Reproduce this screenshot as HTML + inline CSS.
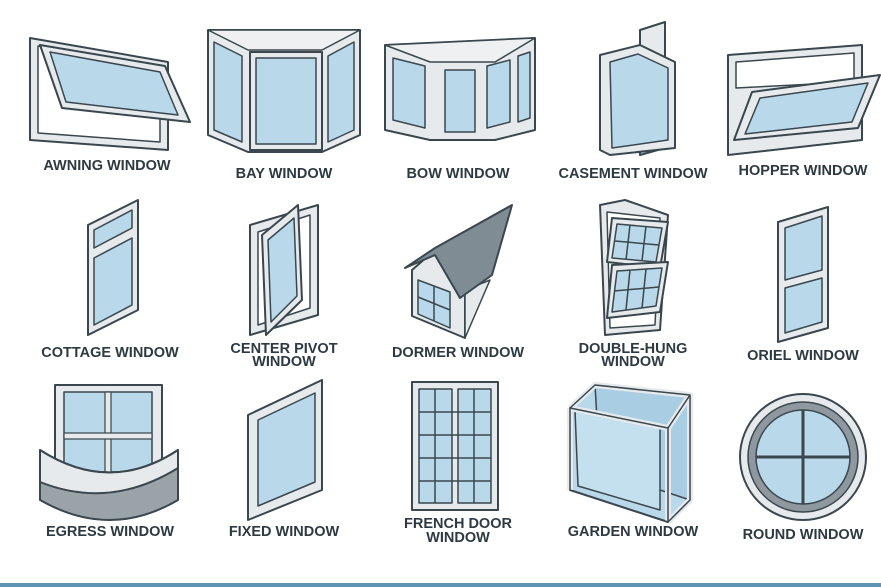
<!DOCTYPE html>
<html><head><style>
html,body{margin:0;padding:0;background:#fff;}
svg{display:block}
text{font-family:"Liberation Sans",sans-serif;font-weight:bold;fill:#2e3a41;font-size:14.5px;text-anchor:middle}
</style></head><body>
<svg width="881" height="587" viewBox="0 0 881 587" xmlns="http://www.w3.org/2000/svg">
<rect width="881" height="587" fill="#fff"/>
<g stroke="#3a474e" stroke-width="2" stroke-linejoin="round">
<!-- Awning -->
<polygon points="30,38 168,62 168,150 30,140" fill="#e6eaec"/>
<polygon points="38,46 160,68 160,142 38,133" fill="#fff" stroke-width="1.5"/>
<polygon points="40,45 165,66 190,122 62,108" fill="#e6eaec"/>
<polygon points="50,52 160,72 178,115 66,102" fill="#b9d8ea" stroke-width="1.5"/>
<!-- Bay -->
<polygon points="208,30 360,30 360,135 322,152 248,152 208,135" fill="#e6eaec"/>
<polygon points="208,30 248,50 322,50 360,30" fill="#eef0f1" stroke-width="1.5"/>
<rect x="250" y="52" width="72" height="98" fill="#e6eaec"/>
<rect x="256" y="58" width="60" height="86" fill="#b9d8ea" stroke-width="1.5"/>
<polygon points="214,42 242,56 242,142 214,130" fill="#b9d8ea" stroke-width="1.5"/>
<polygon points="354,42 328,56 328,142 354,130" fill="#b9d8ea" stroke-width="1.5"/>
<!-- Bow -->
<polygon points="385,45 535,38 535,130 495,140 430,140 385,130" fill="#e6eaec"/>
<polygon points="385,45 430,62 495,62 535,38" fill="#eef0f1" stroke-width="1.5"/>
<polygon points="393,58 425,66 425,128 393,120" fill="#b9d8ea" stroke-width="1.5"/>
<rect x="445" y="70" width="30" height="62" fill="#b9d8ea" stroke-width="1.5"/>
<polygon points="487,66 510,60 510,122 487,128" fill="#b9d8ea" stroke-width="1.5"/>
<polygon points="518,56 530,52 530,118 518,122" fill="#b9d8ea" stroke-width="1.5"/>
<!-- Casement -->
<polygon points="640,30 665,22 665,148 640,155" fill="#e6eaec"/>
<polygon points="600,55 640,45 675,62 675,148 610,155 600,150" fill="#e6eaec"/>
<polygon points="610,62 638,54 668,68 668,140 612,148" fill="#b9d8ea" stroke-width="1.5"/>
<!-- Hopper -->
<polygon points="728,55 862,45 862,140 728,155" fill="#e6eaec"/>
<polygon points="736,62 854,53 854,82 736,88" fill="#fff" stroke-width="1.5"/>
<polygon points="734,140 752,92 880,75 858,128" fill="#e6eaec"/>
<polygon points="745,134 760,98 868,83 852,122" fill="#b9d8ea" stroke-width="1.5"/>
<!-- Cottage -->
<polygon points="88,225 138,200 138,310 88,335" fill="#e6eaec"/>
<polygon points="94,230 132,210 132,228 94,248" fill="#b9d8ea" stroke-width="1.5"/>
<polygon points="94,258 132,238 132,305 94,325" fill="#b9d8ea" stroke-width="1.5"/>
<!-- Center pivot -->
<polygon points="250,225 318,205 318,315 250,335" fill="#e6eaec"/>
<polygon points="258,232 310,215 310,308 258,325" fill="#fff" stroke-width="1.5"/>
<polygon points="262,235 298,205 302,300 266,335" fill="#e6eaec"/>
<polygon points="268,240 294,218 297,296 271,322" fill="#b9d8ea" stroke-width="1.5"/>
<!-- Dormer -->
<polygon points="412,270 435,250 465,268 465,338 412,316" fill="#e6eaec"/>
<polygon points="465,290 490,280 465,338" fill="#e6eaec" stroke-width="1.5"/>
<polygon points="418,280 450,292 450,328 418,314" fill="#b9d8ea" stroke-width="1.5"/>
<line x1="434" y1="286" x2="434" y2="321" stroke-width="1.5"/><line x1="418" y1="297" x2="450" y2="310" stroke-width="1.5"/>
<polygon points="405,268 435,248 512,205 492,275 460,298 435,255" fill="#7f8c93"/>
<!-- Double hung -->
<polygon points="600,205 625,200 668,215 660,330 605,335" fill="#e6eaec"/>
<polygon points="607,212 660,218 655,325 610,328" fill="#fff" stroke-width="1.5"/>
<polygon points="612,218 668,222 660,268 607,262" fill="#e6eaec"/>
<polygon points="617,224 662,228 656,262 612,258" fill="#b9d8ea" stroke-width="1.5"/>
<polygon points="612,265 668,262 660,312 607,318" fill="#e6eaec"/>
<polygon points="617,271 662,268 656,306 612,312" fill="#b9d8ea" stroke-width="1.5"/>
<g stroke-width="1.5"><line x1="630" y1="225" x2="626" y2="260"/><line x1="646" y1="226" x2="642" y2="261"/><line x1="615" y1="241" x2="659" y2="245"/>
<line x1="630" y1="270" x2="626" y2="310"/><line x1="646" y1="269" x2="642" y2="308"/><line x1="614" y1="291" x2="659" y2="287"/></g>
<!-- Oriel -->
<polygon points="778,222 828,207 828,328 778,342" fill="#e6eaec"/>
<polygon points="785,228 822,216 822,270 785,280" fill="#b9d8ea" stroke-width="1.5"/>
<polygon points="785,288 822,278 822,322 785,333" fill="#b9d8ea" stroke-width="1.5"/>
<!-- Egress -->
<rect x="55" y="385" width="107" height="90" fill="#e6eaec"/>
<rect x="64" y="392" width="88" height="80" fill="#b9d8ea" stroke-width="1.5"/>
<rect x="105" y="392" width="6" height="80" fill="#e6eaec" stroke-width="1.2"/>
<rect x="64" y="433" width="88" height="6" fill="#e6eaec" stroke-width="1.2"/>
<path d="M40,450 Q110,495 178,450 L178,500 Q110,540 40,500 Z" fill="#9aa3a8"/>
<path d="M40,450 Q110,495 178,450 L178,468 Q110,510 40,482 Z" fill="#e6eaec"/>
<!-- Fixed -->
<polygon points="248,415 322,380 322,490 248,520" fill="#e6eaec"/>
<polygon points="258,420 315,393 315,482 258,506" fill="#b9d8ea" stroke-width="1.5"/>
<!-- French -->
<rect x="412" y="382" width="86" height="128" fill="#e6eaec"/>
<rect x="419" y="389" width="33" height="114" fill="#b9d8ea" stroke-width="1.5"/>
<rect x="458" y="389" width="33" height="114" fill="#b9d8ea" stroke-width="1.5"/>
<g stroke-width="1.5"><line x1="435" y1="389" x2="435" y2="503"/><line x1="474" y1="389" x2="474" y2="503"/>
<line x1="419" y1="412" x2="491" y2="412"/><line x1="419" y1="435" x2="491" y2="435"/><line x1="419" y1="458" x2="491" y2="458"/><line x1="419" y1="481" x2="491" y2="481"/></g>
<!-- Garden -->
<polygon points="570,408 595,385 690,395 690,500 668,522 570,490" fill="#b9d8ea"/>
<polygon points="595,385 690,395 690,500 600,470" fill="#a9cde3" stroke-width="1.5"/>
<polygon points="575,410 660,426 660,510 578,486" fill="#c4e0ef" stroke-width="1.5"/>
<g fill="none" stroke-width="6" stroke="#e6eaec"><polyline points="570,408 595,385 690,395 668,428 570,408"/><polyline points="668,428 668,522"/><polyline points="570,408 570,490"/><polyline points="690,395 690,500 668,522"/></g>
<g fill="none" stroke-width="1.5"><polyline points="570,408 595,385 690,395 668,428 570,408 570,490 668,522 690,500 690,395"/><line x1="668" y1="428" x2="668" y2="522"/></g>
<!-- Round -->
<circle cx="803" cy="457" r="63" fill="#e6eaec"/>
<circle cx="803" cy="457" r="55" fill="#8e989e" stroke-width="1.5"/>
<circle cx="803" cy="457" r="47" fill="#b9d8ea" stroke-width="1.5"/>
<line x1="803" y1="410" x2="803" y2="504" stroke-width="3"/><line x1="756" y1="457" x2="850" y2="457" stroke-width="3"/>
</g>
<text x="107" y="170">AWNING WINDOW</text>
<text x="284" y="178">BAY WINDOW</text>
<text x="458" y="178">BOW WINDOW</text>
<text x="633" y="178">CASEMENT WINDOW</text>
<text x="803" y="175">HOPPER WINDOW</text>
<text x="110" y="357">COTTAGE WINDOW</text>
<text x="284" y="353">CENTER PIVOT</text><text x="284" y="366">WINDOW</text>
<text x="458" y="357">DORMER WINDOW</text>
<text x="633" y="353">DOUBLE-HUNG</text><text x="633" y="366">WINDOW</text>
<text x="803" y="360">ORIEL WINDOW</text>
<text x="110" y="536">EGRESS WINDOW</text>
<text x="284" y="536">FIXED WINDOW</text>
<text x="458" y="528">FRENCH DOOR</text><text x="458" y="542">WINDOW</text>
<text x="633" y="536">GARDEN WINDOW</text>
<text x="803" y="539">ROUND WINDOW</text>
<rect x="0" y="583" width="881" height="4" fill="#5f94b4"/>
</svg>
</body></html>
